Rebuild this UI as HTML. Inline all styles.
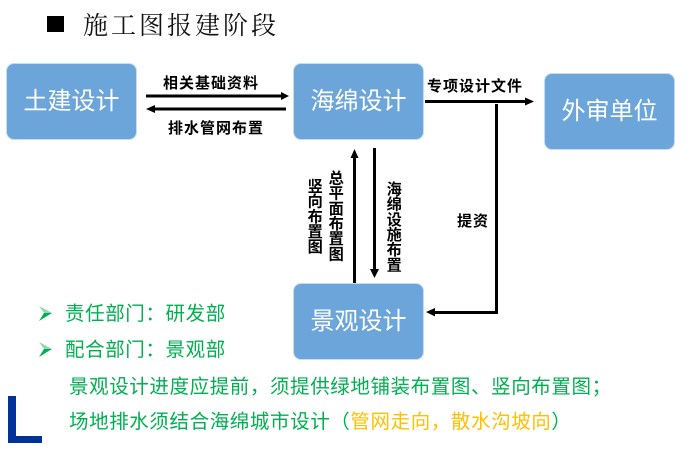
<!DOCTYPE html>
<html><head><meta charset="utf-8">
<style>
html,body{margin:0;padding:0;background:#fff}
body{width:692px;height:460px;position:relative;overflow:hidden;font-family:"Liberation Sans","Noto Sans CJK SC",sans-serif}
.t{position:absolute;white-space:nowrap;line-height:1}
.box{position:absolute;width:131px;height:77px;box-sizing:border-box;background:#6ca5da;border:1px solid #c5dcf1;border-radius:8px;color:#fff;font-size:24px;line-height:75px;text-align:center}
.b{font-size:15px;font-weight:700;letter-spacing:1px;color:#000}
.v{writing-mode:vertical-rl;text-orientation:upright;letter-spacing:0;font-size:15.2px}
.g{font-size:19.500px;letter-spacing:.6px;color:#00b050}
.o{color:#ffc000}
svg{position:absolute;left:0;top:0}
</style></head><body>
<svg width="692" height="460" viewBox="0 0 692 460">
<rect x="47" y="16" width="17" height="16" fill="#000"/>
<g fill="#000" stroke="none">
<rect x="146" y="94.500" width="135" height="3"/><path d="M289 96 L281 92 L281 100Z"/>
<rect x="155" y="107.500" width="131" height="3"/><path d="M146 109 L155 105 L155 113Z"/>
<rect x="425" y="100" width="100" height="3"/><path d="M534 101.500 L525 97.500 L525 105.500Z"/>
<rect x="495" y="104" width="3" height="210"/><rect x="434" y="311" width="64" height="3"/><path d="M426 312 L435 308 L435 316.500Z"/>
<rect x="353" y="158" width="3" height="125"/><path d="M354.500 149 L350.500 158 L358.500 158Z"/>
<rect x="373" y="148" width="3" height="122"/><path d="M374.500 278 L370 269 L379 269Z"/>
<path d="M39 306 L52 313 L44 313Z" fill="#8fd8ad"/><path d="M52 313 L39 321 L44 313Z" fill="#00b050"/>
<path d="M39 342 L52 349 L44 349Z" fill="#8fd8ad"/><path d="M52 349 L39 357 L44 349Z" fill="#00b050"/>
<path d="M8 396 H16 V436 H42 V443 H8Z" fill="#003399"/>
</g>
</svg>
<div class="t" style="left:83px;top:14px;font-family:'Liberation Serif','Noto Serif CJK SC',serif;font-size:25px;letter-spacing:3px;color:#111">施工图报建阶段</div>
<div class="box" style="left:6px;top:63px">土建设计</div>
<div class="box" style="left:293px;top:63px">海绵设计</div>
<div class="box" style="left:544px;top:73px">外审单位</div>
<div class="box" style="left:293px;top:283px;line-height:76px">景观设计</div>
<div class="t b" style="left:163px;top:76px">相关基础资料</div>
<div class="t b" style="left:168px;top:121px">排水管网布置</div>
<div class="t b" style="left:427px;top:79px">专项设计文件</div>
<div class="t b" style="left:457px;top:214px">提资</div>
<div class="t b v" style="left:327px;top:170px">总平面布置图</div>
<div class="t b v" style="left:306px;top:178px">竖向布置图</div>
<div class="t b v" style="left:385px;top:181px">海绵设施布置</div>
<div class="t g" style="left:65px;top:305px">责任部门：研发部</div>
<div class="t g" style="left:65px;top:341px">配合部门：景观部</div>
<div class="t g" style="left:69px;top:378px">景观设计进度应提前，须提供绿地铺装布置图、竖向布置图；</div>
<div class="t g" style="left:69px;top:413px">场地排水须结合海绵城市设计（<span class="o">管网走向，散水沟坡向</span>）</div>
</body></html>
